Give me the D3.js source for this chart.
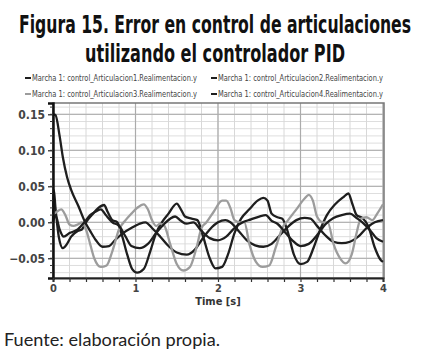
<!DOCTYPE html>
<html>
<head>
<meta charset="utf-8">
<script src="https://cdn.jsdelivr.net/npm/d3@7"></script>
<style>
  body { margin: 0; background: #fff; }
  svg { display: block; }
</style>
</head>
<body>
<script>
// series names (legend order)
var seriesNames = [
  "Marcha 1: control_Articulacion1.Realimentacion.y",
  "Marcha 1: control_Articulacion2.Realimentacion.y",
  "Marcha 1: control_Articulacion3.Realimentacion.y",
  "Marcha 1: control_Articulacion4.Realimentacion.y"
];

// articulacion 1 - starts at 0.15 and settles
var tArt1 = [0, 0.03, 0.08, 0.12, 0.17, 0.22, 0.31, 0.39, 0.45, 0.52, 0.6, 0.68, 0.75, 0.85, 0.95, 1.05, 1.12, 1.2, 1.3, 1.4, 1.5, 1.62, 1.72, 1.8, 1.9, 2.0, 2.09, 2.15, 2.25, 2.35, 2.45, 2.55, 2.65, 2.75, 2.85, 2.95, 3.05, 3.12, 3.2, 3.3, 3.4, 3.5, 3.6, 3.7, 3.8, 3.9, 4.0];
var vArt1 = [0.15, 0.149, 0.12, 0.09, 0.063, 0.045, 0.022, 0.0, -0.012, -0.025, -0.034, -0.033, -0.025, -0.015, -0.008, -0.002, 0.0, -0.008, -0.02, -0.033, -0.042, -0.045, -0.038, -0.025, -0.01, 0.0, 0.003, 0.0, -0.012, -0.025, -0.032, -0.034, -0.03, -0.018, -0.006, 0.003, 0.006, 0.005, -0.005, -0.018, -0.027, -0.029, -0.027, -0.02, -0.008, 0.0, 0.003];

// articulacion 2 - large swing
var tArt2 = [0, 0.01, 0.03, 0.07, 0.12, 0.17, 0.22, 0.3, 0.35, 0.4, 0.47, 0.55, 0.62, 0.66, 0.72, 0.78, 0.84, 0.9, 0.96, 1.02, 1.1, 1.18, 1.25, 1.32, 1.4, 1.5, 1.55, 1.6, 1.68, 1.75, 1.82, 1.9, 1.97, 2.05, 2.12, 2.2, 2.28, 2.38, 2.48, 2.55, 2.6, 2.65, 2.72, 2.78, 2.85, 2.92, 3.0, 3.08, 3.16, 3.24, 3.32, 3.42, 3.52, 3.58, 3.63, 3.68, 3.75, 3.82, 3.9, 3.97, 4.0];
var vArt2 = [0.0, 0.045, 0.02, -0.02, -0.036, -0.03, -0.02, -0.012, -0.01, 0.0, 0.01, 0.02, 0.024, 0.015, 0.003, 0.0, -0.02, -0.045, -0.065, -0.07, -0.065, -0.04, -0.015, 0.0, 0.012, 0.026, 0.018, 0.008, 0.005, 0.003, -0.02, -0.05, -0.064, -0.062, -0.045, -0.015, 0.005, 0.018, 0.03, 0.034, 0.03, 0.012, 0.007, 0.005, -0.015, -0.045, -0.058, -0.055, -0.035, -0.01, 0.01, 0.025, 0.035, 0.04, 0.025, 0.01, 0.006, -0.005, -0.035, -0.052, -0.055];

// articulacion 3 - grey curve
var tArt3 = [0, 0.05, 0.1, 0.15, 0.2, 0.25, 0.3, 0.35, 0.4, 0.45, 0.5, 0.58, 0.65, 0.72, 0.8, 0.88, 0.95, 1.02, 1.1, 1.15, 1.2, 1.25, 1.3, 1.35, 1.42, 1.5, 1.58, 1.66, 1.74, 1.8, 1.86, 1.95, 2.05, 2.1, 2.15, 2.2, 2.27, 2.32, 2.38, 2.46, 2.54, 2.62, 2.7, 2.78, 2.85, 2.95, 3.05, 3.1, 3.15, 3.2, 3.27, 3.33, 3.4, 3.48, 3.55, 3.62, 3.68, 3.73, 3.8, 3.87, 3.93, 4.0];
var vArt3 = [0.01, 0.015, 0.018, 0.01, -0.003, -0.005, -0.003, 0.0, -0.01, -0.03, -0.05, -0.062, -0.06, -0.04, -0.01, 0.003, 0.012, 0.02, 0.025, 0.018, 0.003, -0.005, -0.002, -0.005, -0.03, -0.058, -0.067, -0.062, -0.035, -0.008, 0.0, 0.015, 0.03, 0.03, 0.02, 0.003, 0.0, 0.0, -0.03, -0.055, -0.062, -0.06, -0.035, -0.008, 0.003, 0.018, 0.033, 0.038, 0.03, 0.008, 0.0, 0.0, -0.03, -0.05, -0.057, -0.045, -0.015, 0.005, 0.007, 0.003, 0.012, 0.025];

// articulacion 4 - medium swing
var tArt4 = [0, 0.03, 0.08, 0.13, 0.2, 0.3, 0.38, 0.45, 0.52, 0.58, 0.64, 0.72, 0.8, 0.88, 0.95, 1.05, 1.15, 1.25, 1.35, 1.42, 1.48, 1.55, 1.62, 1.7, 1.8, 1.9, 2.0, 2.1, 2.2, 2.3, 2.4, 2.5, 2.58, 2.65, 2.72, 2.8, 2.9, 3.0, 3.1, 3.2, 3.3, 3.4, 3.5, 3.6, 3.68, 3.75, 3.85, 3.92, 4.0];
var vArt4 = [0.0, 0.01, -0.01, -0.02, -0.015, -0.01, 0.0, 0.01, 0.015, 0.018, 0.01, 0.0, -0.005, -0.02, -0.033, -0.036, -0.03, -0.015, -0.002, 0.005, 0.008, 0.002, -0.002, 0.0, -0.012, -0.022, -0.025, -0.02, -0.008, 0.0, 0.004, 0.008, 0.01, 0.002, -0.002, -0.012, -0.025, -0.033, -0.03, -0.018, -0.003, 0.006, 0.01, 0.012, 0.006, 0.0, -0.012, -0.022, -0.027];

var seriesColors = ["#1e1e1e", "#1e1e1e", "#9c9c9c", "#1e1e1e"];

// ticks
var yTicks = [-0.05, 0.00, 0.05, 0.10, 0.15];
var xTicks = [0, 1, 2, 3, 4];

var w = 430;
var h = 360;

var svg = d3.select("body")
            .append("svg")
            .attr("width", w)
            .attr("height", h);

// plot area
var pLeft = 53, pRight = 383, pTop = 103, pBottom = 278;

var x = d3.scaleLinear().domain([0, 4]).range([pLeft, pRight]);
var y = d3.scaleLinear().domain([-0.0774, 0.1657]).range([pBottom, pTop]);

// title
var titleFont = "'Liberation Sans Narrow', 'DejaVu Sans Condensed', 'Roboto Condensed', sans-serif";
svg.append("text")
   .attr("x", 215).attr("y", 33)
   .attr("text-anchor", "middle")
   .attr("font-family", titleFont)
   .attr("font-weight", "bold")
   .attr("font-size", "25px")
   .attr("fill", "#111")
   .attr("textLength", 392)
   .attr("lengthAdjust", "spacingAndGlyphs")
   .text("Figura 15. Error en control de articulaciones");
svg.append("text")
   .attr("x", 215).attr("y", 62)
   .attr("text-anchor", "middle")
   .attr("font-family", titleFont)
   .attr("font-weight", "bold")
   .attr("font-size", "25px")
   .attr("fill", "#111")
   .attr("textLength", 260)
   .attr("lengthAdjust", "spacingAndGlyphs")
   .text("utilizando el controlador PID");

// legend (2 columns x 2 rows)
var legendPos = [[25, 78], [211, 78], [25, 94], [211, 94]];
var legend = svg.selectAll(".legend")
   .data(seriesNames)
   .enter()
   .append("g")
   .attr("class", "legend")
   .attr("transform", function(d, i) { return "translate(" + legendPos[i][0] + "," + legendPos[i][1] + ")"; });
legend.append("line")
   .attr("x1", 0).attr("x2", 6)
   .attr("y1", 0).attr("y2", 0)
   .attr("stroke", function(d, i) { return seriesColors[i]; })
   .attr("stroke-width", 2);
legend.append("text")
   .attr("x", 7).attr("y", 3)
   .attr("font-family", "'DejaVu Sans Condensed', 'DejaVu Sans', sans-serif")
   .attr("font-size", "8px")
   .attr("fill", "#444")
   .attr("textLength", 165)
   .attr("lengthAdjust", "spacingAndGlyphs")
   .text(function(d) { return d; });

// grid - minor
var minorY = d3.range(-70, 166, 10).map(function(d) { return d / 1000; });
var minorX = d3.range(0, 21).map(function(d) { return d * 0.2; });

svg.append("g").selectAll("line")
   .data(minorY)
   .enter().append("line")
   .attr("x1", pLeft).attr("x2", pRight)
   .attr("y1", function(d) { return y(d); })
   .attr("y2", function(d) { return y(d); })
   .attr("stroke", "#dedede")
   .attr("stroke-width", 1);
svg.append("g").selectAll("line")
   .data(minorX)
   .enter().append("line")
   .attr("y1", pTop).attr("y2", pBottom)
   .attr("x1", function(d) { return x(d); })
   .attr("x2", function(d) { return x(d); })
   .attr("stroke", "#d8d8d8")
   .attr("stroke-width", 1);

// grid - major
svg.append("g").selectAll("line")
   .data(yTicks)
   .enter().append("line")
   .attr("x1", pLeft).attr("x2", pRight)
   .attr("y1", function(d) { return y(d); })
   .attr("y2", function(d) { return y(d); })
   .attr("stroke", "#b4b4b4")
   .attr("stroke-width", 1.2);
svg.append("g").selectAll("line")
   .data(xTicks)
   .enter().append("line")
   .attr("y1", pTop).attr("y2", pBottom)
   .attr("x1", function(d) { return x(d); })
   .attr("x2", function(d) { return x(d); })
   .attr("stroke", "#ababab")
   .attr("stroke-width", 1.2);

// frame
svg.append("rect")
   .attr("x", pLeft).attr("y", pTop)
   .attr("width", pRight - pLeft + 1).attr("height", pBottom - pTop)
   .attr("fill", "none")
   .attr("stroke", "#777")
   .attr("stroke-width", 1.5);

// curves
var allSeries = [
  d3.zip(tArt1, vArt1),
  d3.zip(tArt2, vArt2),
  d3.zip(tArt3, vArt3),
  d3.zip(tArt4, vArt4)
];

var line = d3.line()
   .x(function(d) { return x(d[0]); })
   .y(function(d) { return y(d[1]); })
   .curve(d3.curveMonotoneX);

svg.append("g").selectAll("path")
   .data(allSeries)
   .enter().append("path")
   .attr("d", line)
   .attr("fill", "none")
   .attr("stroke", function(d, i) { return seriesColors[i]; })
   .attr("stroke-width", 2.3)
   .attr("stroke-linejoin", "round");

// axes
var tickFont = "'Liberation Sans Narrow', 'DejaVu Sans Condensed', sans-serif";

var yAxis = svg.append("g")
   .attr("transform", "translate(" + pLeft + ",0)")
   .call(d3.axisLeft(y).tickValues(yTicks).tickSize(5).tickFormat(d3.format(".2f")));
yAxis.select(".domain").attr("stroke", "#111").attr("stroke-width", 2.5);
yAxis.selectAll(".tick line").attr("stroke", "#222").attr("stroke-width", 1.2);
yAxis.selectAll(".tick text")
   .attr("font-family", tickFont)
   .attr("font-weight", "bold")
   .attr("font-size", "12px")
   .attr("fill", "#444");

// minor y ticks
svg.append("g").selectAll("line")
   .data(minorY)
   .enter().append("line")
   .attr("x1", pLeft - 3).attr("x2", pLeft)
   .attr("y1", function(d) { return y(d); })
   .attr("y2", function(d) { return y(d); })
   .attr("stroke", "#333")
   .attr("stroke-width", 1);

var xAxis = svg.append("g")
   .attr("transform", "translate(0," + pBottom + ")")
   .call(d3.axisBottom(x).tickValues(minorX).tickSize(4).tickPadding(2).tickFormat(function(d) {
      return Math.abs(d - Math.round(d)) < 1e-9 ? d3.format("d")(d) : "";
   }));
xAxis.select(".domain").attr("stroke", "#222").attr("stroke-width", 2);
xAxis.selectAll(".tick line").attr("stroke", "#333").attr("stroke-width", 1.2);
xAxis.selectAll(".tick text")
   .attr("font-family", tickFont)
   .attr("font-weight", "bold")
   .attr("font-size", "11px")
   .attr("fill", "#444");

svg.append("text")
   .attr("x", 218).attr("y", 305)
   .attr("text-anchor", "middle")
   .attr("font-family", tickFont)
   .attr("font-weight", "bold")
   .attr("font-size", "11px")
   .attr("fill", "#333")
   .text("Time [s]");

// source note
svg.append("text")
   .attr("x", 4).attr("y", 346)
   .attr("font-family", "Lato, 'Open Sans', sans-serif")
   .attr("font-size", "17px")
   .attr("fill", "#222")
   .attr("textLength", 216)
   .attr("lengthAdjust", "spacingAndGlyphs")
   .text("Fuente: elaboración propia.");
</script>
</body>
</html>
